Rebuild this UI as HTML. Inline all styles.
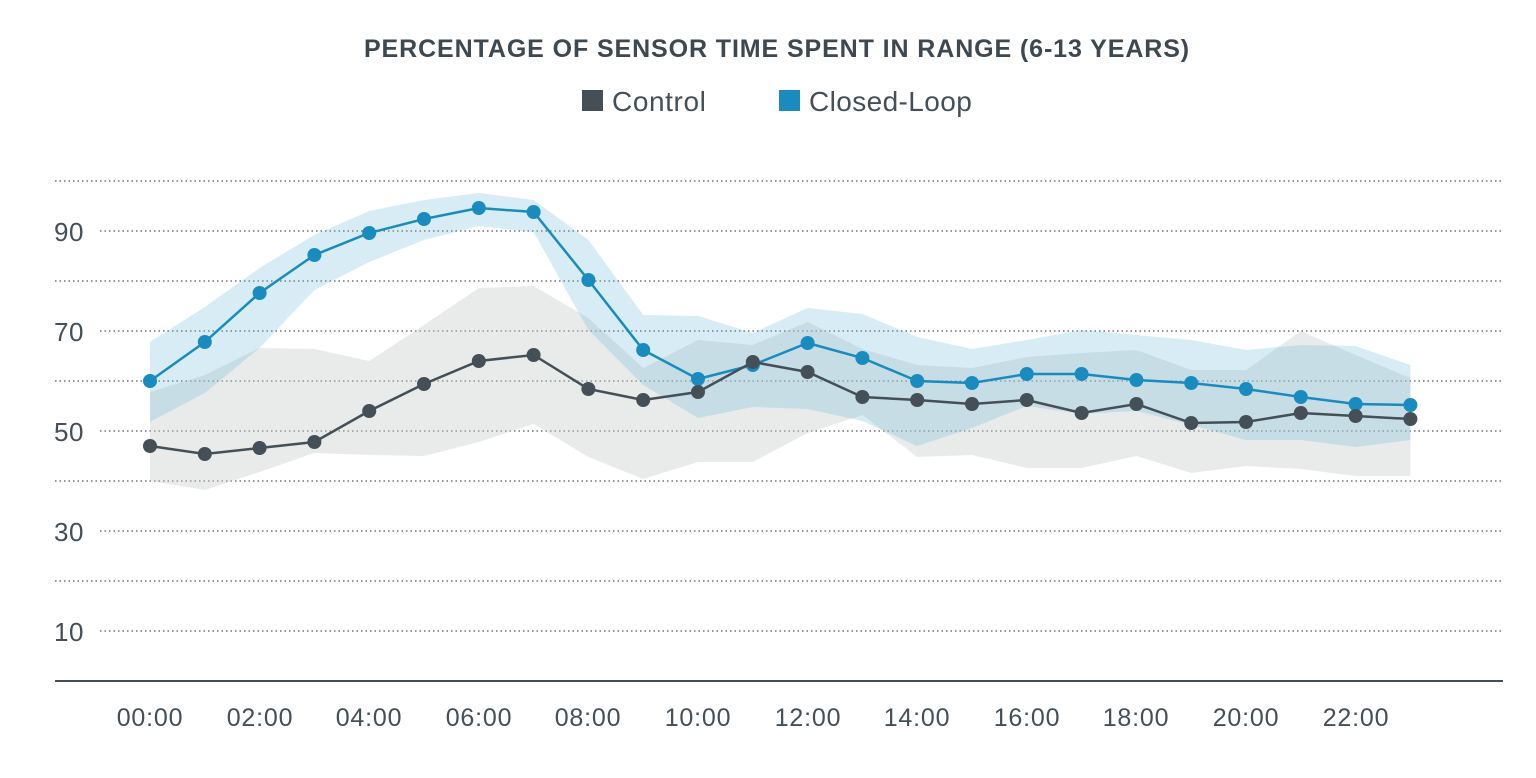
<!DOCTYPE html>
<html><head><style>
html,body{margin:0;padding:0;background:#fff;}
svg{display:block;font-family:"Liberation Sans",sans-serif;}
</style></head><body>
<svg width="1536" height="778" viewBox="0 0 1536 778">
<text x="777" y="57" text-anchor="middle" font-size="25" font-weight="bold" fill="#3e4850" letter-spacing="0.9">PERCENTAGE OF SENSOR TIME SPENT IN RANGE (6-13 YEARS)</text>
<rect x="582" y="90" width="21" height="21" fill="#444f57"/>
<text x="612" y="111" font-size="28" fill="#444f57" letter-spacing="0.6">Control</text>
<rect x="779" y="90" width="21" height="21" fill="#1a8bbf"/>
<text x="809" y="111" font-size="28" fill="#444f57" letter-spacing="0.4">Closed-Loop</text>
<g stroke="#555" stroke-width="1.3" stroke-dasharray="1.5,3">
<line x1="55" y1="181" x2="1503" y2="181"/>
<line x1="100" y1="231" x2="1503" y2="231"/>
<line x1="55" y1="281" x2="1503" y2="281"/>
<line x1="100" y1="331" x2="1503" y2="331"/>
<line x1="55" y1="381" x2="1503" y2="381"/>
<line x1="100" y1="431" x2="1503" y2="431"/>
<line x1="55" y1="481" x2="1503" y2="481"/>
<line x1="100" y1="531" x2="1503" y2="531"/>
<line x1="55" y1="581" x2="1503" y2="581"/>
<line x1="100" y1="631" x2="1503" y2="631"/>
</g>
<line x1="55" y1="681" x2="1503" y2="681" stroke="#444f57" stroke-width="2"/>
<g font-size="26" fill="#444f57" letter-spacing="0.5">
<text x="54" y="241">90</text><text x="54" y="341">70</text><text x="54" y="441">50</text><text x="54" y="541">30</text><text x="54" y="641">10</text>
</g>
<g font-size="25" fill="#444f57" text-anchor="middle" letter-spacing="0.8">
<text x="150" y="726">00:00</text><text x="260" y="726">02:00</text><text x="369" y="726">04:00</text><text x="479" y="726">06:00</text><text x="588" y="726">08:00</text><text x="698" y="726">10:00</text><text x="808" y="726">12:00</text><text x="917" y="726">14:00</text><text x="1027" y="726">16:00</text><text x="1136" y="726">18:00</text><text x="1246" y="726">20:00</text><text x="1356" y="726">22:00</text>
</g>
<polygon fill="rgba(200,205,203,0.4)" points="150,392 204.8,375 259.6,348 314.4,349 369.2,361 424,325 478.8,288 533.6,286 588.4,318 643.2,368 698,340 752.8,345 807.6,322 862.4,349 917.2,365 972,368 1026.8,357 1081.6,353 1136.4,350 1191.2,370 1246,370 1300.8,331 1355.6,355 1410.4,378 1410.4,476 1355.6,476 1300.8,469 1246,466 1191.2,473 1136.4,456 1081.6,468 1026.8,468 972,455 917.2,457 862.4,415 807.6,433 752.8,462 698,462 643.2,479 588.4,457 533.6,424 478.8,442 424,456 369.2,455 314.4,453 259.6,472 204.8,490 150,481"/>
<polygon fill="rgba(110,185,215,0.28)" points="150,342 204.8,307 259.6,268 314.4,235 369.2,211 424,200 478.8,193 533.6,200 588.4,240 643.2,315 698,316 752.8,333 807.6,308 862.4,314 917.2,337 972,349 1026.8,340 1081.6,330 1136.4,335 1191.2,340 1246,350 1300.8,345 1355.6,346 1410.4,365 1410.4,440 1355.6,447 1300.8,440 1246,440 1191.2,425 1136.4,411 1081.6,414 1026.8,406 972,428 917.2,446 862.4,421 807.6,409 752.8,407 698,418 643.2,385 588.4,330 533.6,232 478.8,226 424,240 369.2,262 314.4,290 259.6,348 204.8,393 150,422"/>
<g fill="#1a8bbf">
<polyline fill="none" stroke="#1a8bbf" stroke-width="2.5" points="150,381 204.8,342 259.6,293 314.4,255 369.2,233 424,219 478.8,208 533.6,212 588.4,280 643.2,350 698,379 752.8,365 807.6,343 862.4,358 917.2,381 972,383 1026.8,374 1081.6,374 1136.4,380 1191.2,383 1246,389 1300.8,397 1355.6,404 1410.4,405"/>
<circle cx="150" cy="381" r="7"/><circle cx="204.8" cy="342" r="7"/><circle cx="259.6" cy="293" r="7"/><circle cx="314.4" cy="255" r="7"/><circle cx="369.2" cy="233" r="7"/><circle cx="424" cy="219" r="7"/><circle cx="478.8" cy="208" r="7"/><circle cx="533.6" cy="212" r="7"/><circle cx="588.4" cy="280" r="7"/><circle cx="643.2" cy="350" r="7"/><circle cx="698" cy="379" r="7"/><circle cx="752.8" cy="365" r="7"/><circle cx="807.6" cy="343" r="7"/><circle cx="862.4" cy="358" r="7"/><circle cx="917.2" cy="381" r="7"/><circle cx="972" cy="383" r="7"/><circle cx="1026.8" cy="374" r="7"/><circle cx="1081.6" cy="374" r="7"/><circle cx="1136.4" cy="380" r="7"/><circle cx="1191.2" cy="383" r="7"/><circle cx="1246" cy="389" r="7"/><circle cx="1300.8" cy="397" r="7"/><circle cx="1355.6" cy="404" r="7"/><circle cx="1410.4" cy="405" r="7"/>
</g>
<g fill="#444f57">
<polyline fill="none" stroke="#444f57" stroke-width="2.5" points="150,446 204.8,454 259.6,448 314.4,442 369.2,411 424,384 478.8,361 533.6,355 588.4,389 643.2,400 698,392 752.8,362 807.6,372 862.4,397 917.2,400 972,404 1026.8,400 1081.6,413 1136.4,404 1191.2,423 1246,422 1300.8,413 1355.6,416 1410.4,419"/>
<circle cx="150" cy="446" r="7"/><circle cx="204.8" cy="454" r="7"/><circle cx="259.6" cy="448" r="7"/><circle cx="314.4" cy="442" r="7"/><circle cx="369.2" cy="411" r="7"/><circle cx="424" cy="384" r="7"/><circle cx="478.8" cy="361" r="7"/><circle cx="533.6" cy="355" r="7"/><circle cx="588.4" cy="389" r="7"/><circle cx="643.2" cy="400" r="7"/><circle cx="698" cy="392" r="7"/><circle cx="752.8" cy="362" r="7"/><circle cx="807.6" cy="372" r="7"/><circle cx="862.4" cy="397" r="7"/><circle cx="917.2" cy="400" r="7"/><circle cx="972" cy="404" r="7"/><circle cx="1026.8" cy="400" r="7"/><circle cx="1081.6" cy="413" r="7"/><circle cx="1136.4" cy="404" r="7"/><circle cx="1191.2" cy="423" r="7"/><circle cx="1246" cy="422" r="7"/><circle cx="1300.8" cy="413" r="7"/><circle cx="1355.6" cy="416" r="7"/><circle cx="1410.4" cy="419" r="7"/>
</g>
</svg>
</body></html>
